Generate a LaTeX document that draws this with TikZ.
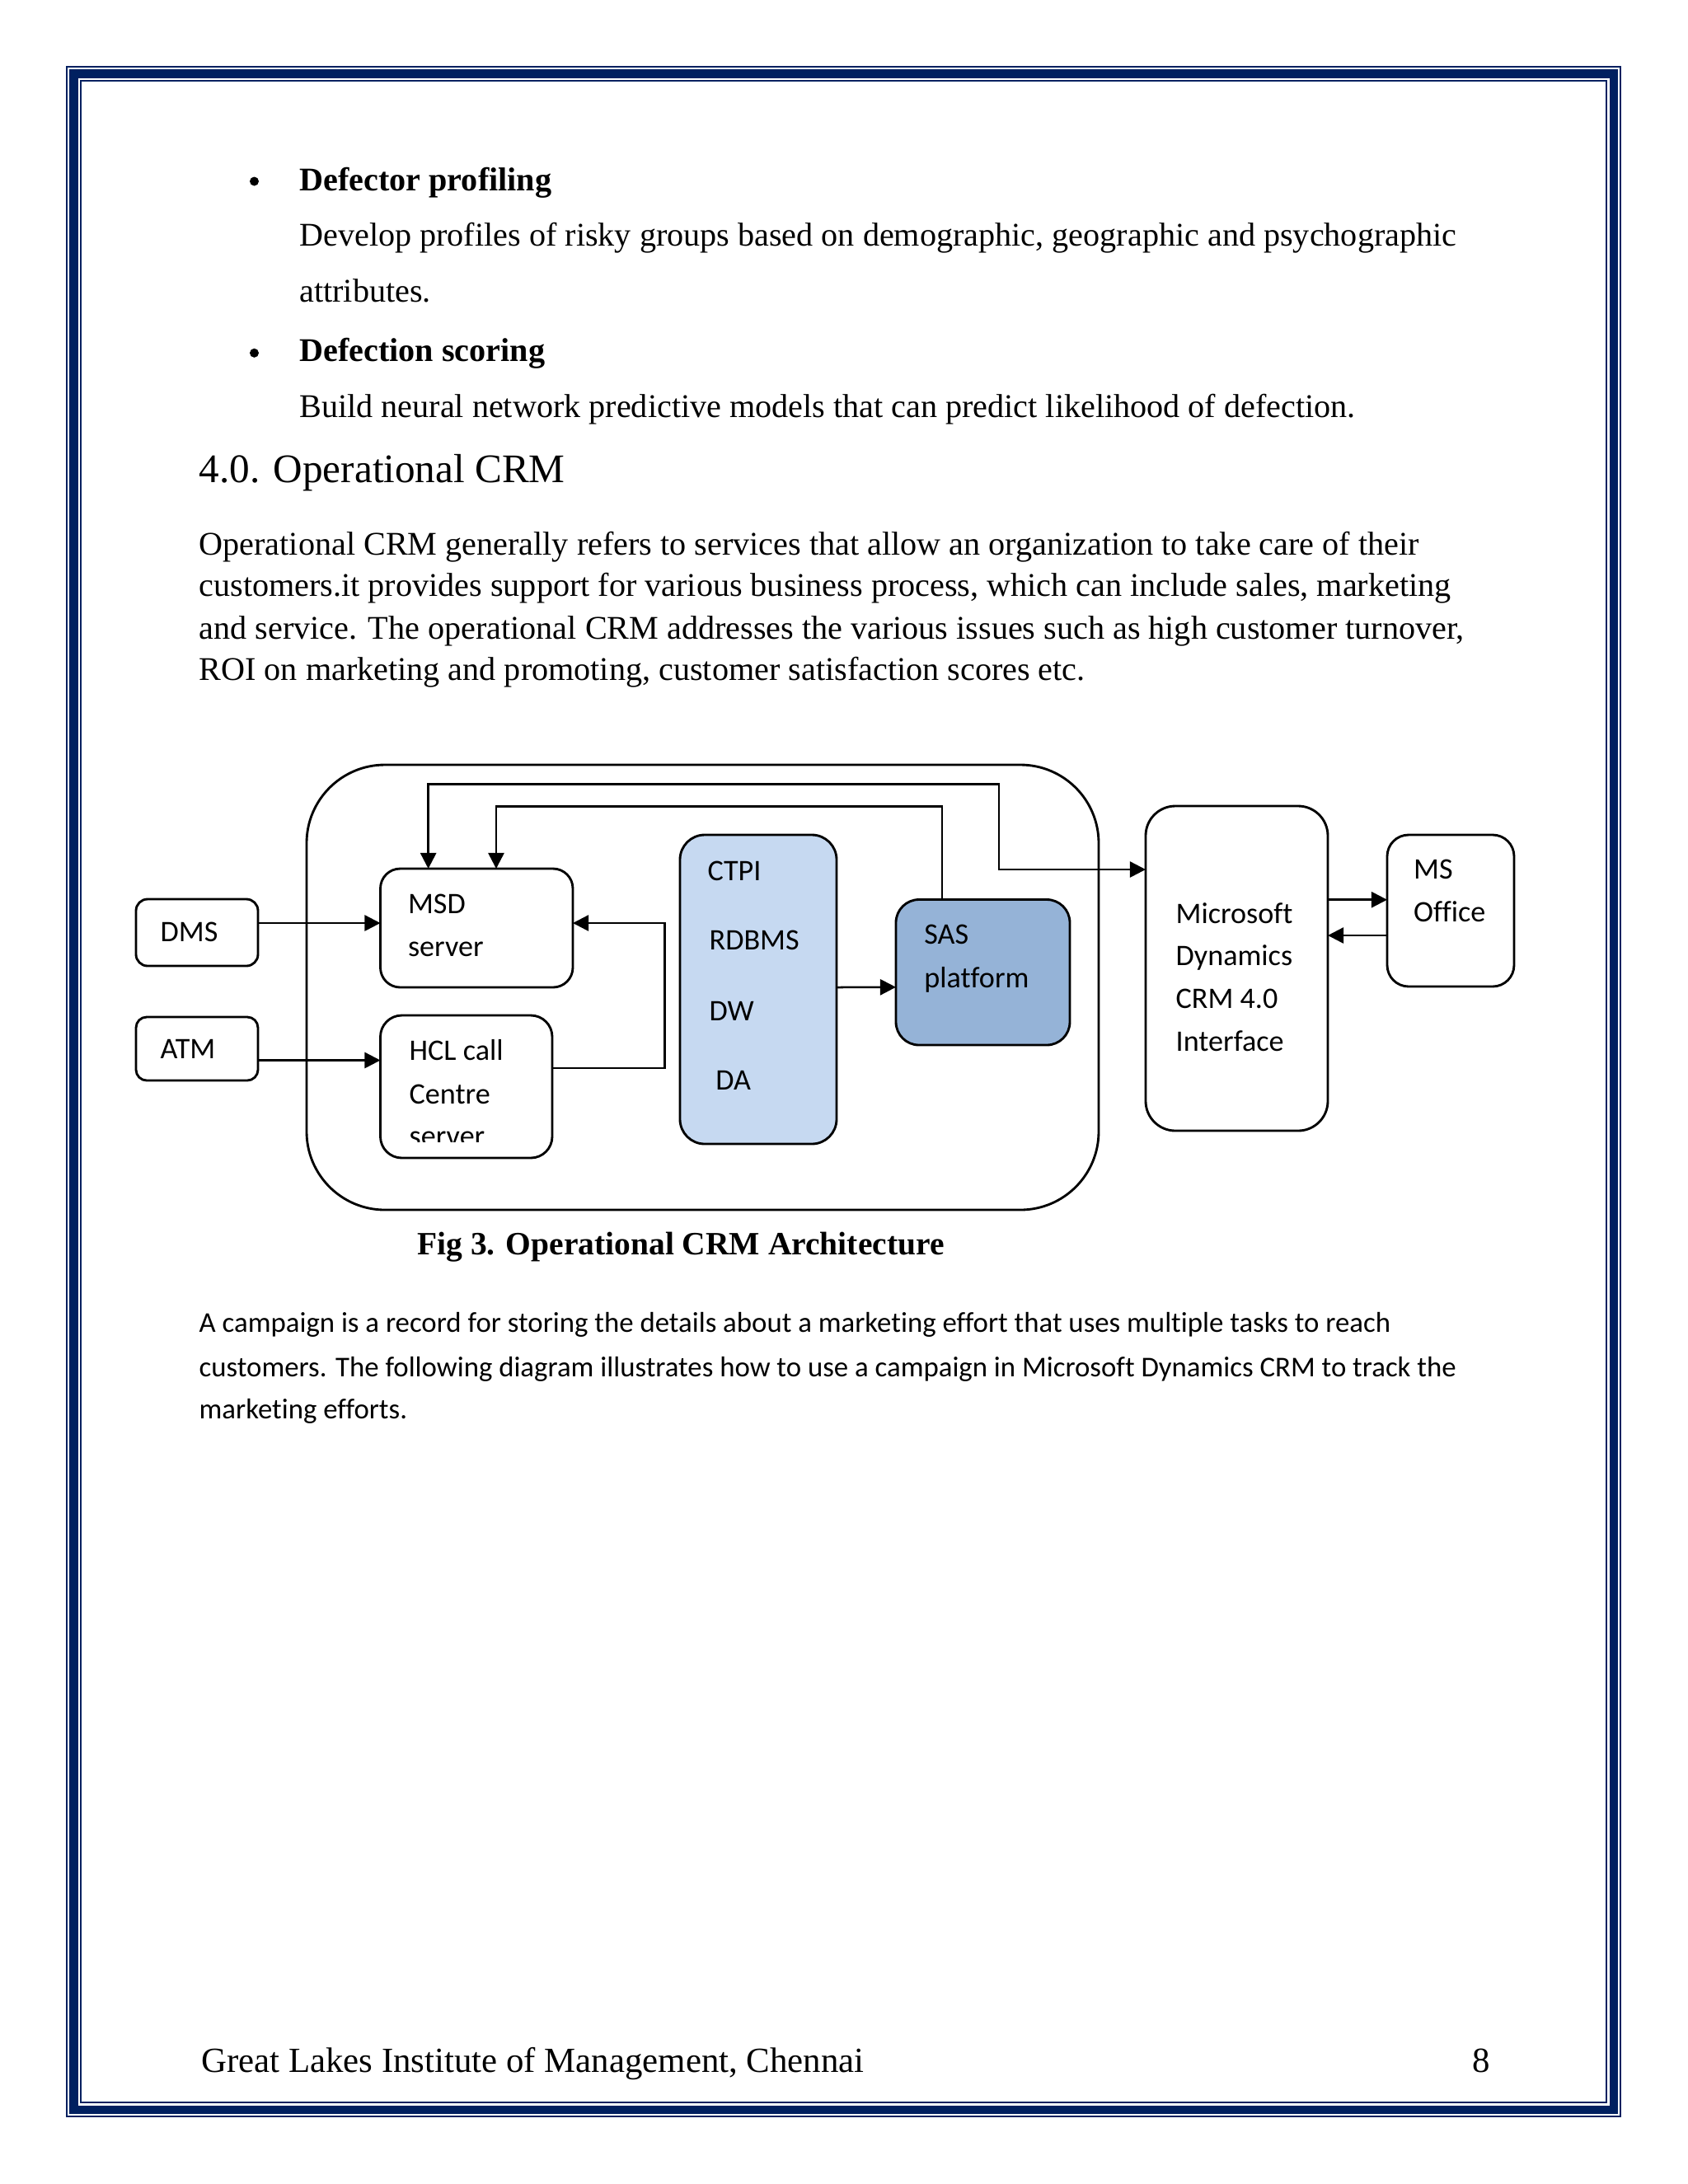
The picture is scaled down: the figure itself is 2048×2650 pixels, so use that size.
\documentclass[tikz,border=0pt]{standalone}
\usepackage{fontspec}
\setmainfont{Liberation Serif}
\newfontfamily\diagfont[Ligatures=NoCommon]{Carlito}
\usetikzlibrary{arrows.meta,calc}
\definecolor{navy}{HTML}{002060}
\definecolor{lightblue}{HTML}{C6D9F1}
\definecolor{midblue}{HTML}{95B3D7}
\def\pxu{0.29883pt}
\begin{document}
\begin{tikzpicture}[x=0.29883pt,y=-0.29883pt,
  box/.style={draw, line width=0.85pt, inner sep=0pt, outer sep=0pt},
  arr/.style={line width=0.75pt, -{Triangle[length=5.7pt,width=5.7pt]}},
  biarr/.style={line width=0.75pt, {Triangle[length=5.7pt,width=5.7pt]}-{Triangle[length=5.7pt,width=5.7pt]}},
  txt/.style={anchor=base west, inner sep=0pt, font=\fontsize{12}{14}\selectfont},
  bul/.style={circle, fill, inner sep=0pt, minimum size=11*\pxu},
  dt/.style={anchor=base west, inner sep=0pt, font=\diagfont\fontsize{10.8}{13}\selectfont},
  pt/.style={anchor=base west, inner sep=0pt, font=\diagfont\fontsize{10.4}{12}\selectfont},
]
\useasboundingbox (0,0) rectangle (2048,2650);
\fill[white] (0,0) rectangle (2048,2650);

% page border
\draw[navy, line width=0.6pt] (80.8,80.8) rectangle (1965.8,2568.3);
\draw[navy, line width=3.2pt] (89.5,89.5) rectangle (1958,2560);
\draw[navy, line width=0.6pt] (98.3,98.3) rectangle (1949.4,2551.3);

% text above
\node[bul] (b1) at (308.5,220) {};
\node[txt, font=\bfseries\fontsize{12}{14}\selectfont] (h1) at (362.7,231.7) {Defector profiling};
\node[txt] (l1) at (362.7,298.3) {Develop profiles of risky groups based on demographic, geographic and psychographic};
\node[txt] (l2) at (362.7,366.7) {attributes.};
\node[bul] (b2) at (308.5,428.3) {};
\node[txt, font=\bfseries\fontsize{12}{14}\selectfont] (h2) at (362.7,438.3) {Defection scoring};
\node[txt] (l3) at (362.7,506.7) {Build neural network predictive models that can predict likelihood of defection.};
\node[txt, font=\fontsize{14.7}{17}\selectfont] (sec) at (241,585) {4.0. Operational CRM};
\node[txt] (p1) at (241,673.3) {Operational CRM generally refers to services that allow an organization to take care of their};
\node[txt] (p2) at (241,723.3) {customers.it provides support for various business process, which can include sales, marketing};
\node[txt] (p3) at (241,775) {and service. The operational CRM addresses the various issues such as high customer turnover,};
\node[txt] (p4) at (241,825) {ROI on marketing and promoting, customer satisfaction scores etc.};

% diagram boxes
\node[box, rounded corners=95*\pxu, minimum width=961*\pxu, minimum height=540*\pxu] (cont) at (852.5,1198) {};
\node[box, rounded corners=14*\pxu, minimum width=148*\pxu, minimum height=81*\pxu] (dms) at (239,1131.5) {};
\node[box, rounded corners=13*\pxu, minimum width=148*\pxu, minimum height=77*\pxu] (atm) at (239,1272.5) {};
\node[box, rounded corners=24*\pxu, minimum width=233.5*\pxu, minimum height=144*\pxu] (msd) at (578.25,1126) {};
\node[box, rounded corners=26*\pxu, minimum width=208.5*\pxu, minimum height=173*\pxu] (hcl) at (565.75,1318.5) {};
\node[box, fill=lightblue, rounded corners=30*\pxu, minimum width=190*\pxu, minimum height=375*\pxu] (ctpi) at (920,1200.5) {};
\node[box, fill=midblue, rounded corners=28*\pxu, minimum width=211*\pxu, minimum height=176.5*\pxu] (sas) at (1192.5,1179.75) {};
\node[box, rounded corners=36*\pxu, minimum width=221*\pxu, minimum height=394*\pxu] (ms) at (1500.5,1175) {};
\node[box, rounded corners=26*\pxu, minimum width=154*\pxu, minimum height=184*\pxu] (off) at (1760,1105) {};

% diagram texts
\node[dt] (tdms) at (194,1142) {DMS};
\node[dt] (tatm) at (194,1284.6) {ATM};
\node[dt] (tmsd1) at (494.4,1108.6) {MSD};
\node[dt] (tmsd2) at (494.4,1160) {server};
\node[dt] (thcl1) at (496,1286.7) {HCL call};
\node[dt] (thcl2) at (496,1339) {Centre};
\begin{scope}
\clip (470,1350) rectangle (665,1385);
\node[dt] (thcl3) at (496,1390) {server};
\end{scope}
\node[dt] (tc1) at (858,1068.4) {CTPI};
\node[dt] (tc2) at (860,1152.6) {RDBMS};
\node[dt] (tc3) at (860,1238.7) {DW};
\node[dt] (tc4) at (867.8,1322.8) {DA};
\node[dt] (ts1) at (1120.7,1145.7) {SAS};
\node[dt] (ts2) at (1120.7,1198.3) {platform};
\node[dt] (tm1) at (1426,1120) {Microsoft};
\node[dt] (tm2) at (1426,1171.7) {Dynamics};
\node[dt] (tm3) at (1426,1223) {CRM 4.0};
\node[dt] (tm4) at (1426,1275) {Interface};
\node[dt] (to1) at (1714.5,1066.7) {MS};
\node[dt] (to2) at (1714.5,1118.3) {Office};

% connectors
\coordinate (j1) at (806.6,1120);
\coordinate (t1) at (1212,951.7);
\coordinate (t2) at (602,978.4);
\draw[arr] ($(dms.east)+(0,-11.5)$) -- ($(msd.west)+(0,-6)$);
\draw[arr] ($(atm.east)+(0,14)$) -- ($(hcl.west)+(0,-32)$);
\draw[arr] ($(hcl.east)+(0,-22.5)$) -| (j1) -- ($(msd.east)+(0,-6)$);
\draw[arr] ($(ctpi.east)+(0,-2.5)$) -- ($(sas.west)+(0,18)$);
\draw[biarr] ($(msd.north)+(-58.6,0)$) |- (t1) |- ($(ms.west)+(0,-120)$);
\draw[arr] ($(sas.north)+(-49.5,0)$) |- (t2) -- ($(msd.north)+(23.75,0)$);
\draw[arr] ($(ms.east)+(0,-83.3)$) -- ($(off.west)+(0,-13.3)$);
\draw[arr] ($(off.west)+(0,30)$) -- ($(ms.east)+(0,-40)$);

% caption and text below
\node[txt, font=\bfseries\fontsize{11.8}{14}\selectfont] (cap) at (505.8,1522.7) {Fig 3. Operational CRM Architecture};
\node[pt] (q1) at (241,1616.7) {A campaign is a record for storing the details about a marketing effort that uses multiple tasks to reach};
\node[pt] (q2) at (241,1670) {customers. The following diagram illustrates how to use a campaign in Microsoft Dynamics CRM to track the};
\node[pt] (q3) at (241,1721.7) {marketing efforts.};

% footer
\node[txt, font=\fontsize{12.8}{15}\selectfont] (foot) at (243.8,2514) {Great Lakes Institute of Management, Chennai};
\node[txt, font=\fontsize{12.8}{15}\selectfont] (pg) at (1786,2514) {8};
\end{tikzpicture}
\end{document}
